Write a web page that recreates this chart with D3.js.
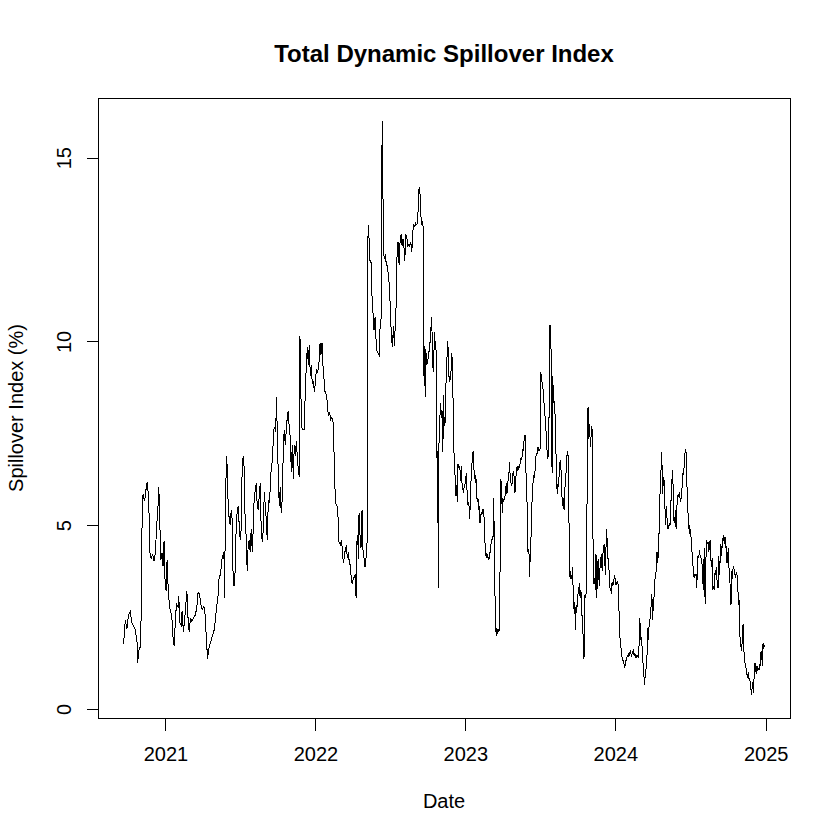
<!DOCTYPE html>
<html>
<head>
<meta charset="utf-8">
<script src="https://cdn.jsdelivr.net/npm/d3@7"></script>
<style>
  body { margin: 0; background: #fff; }
  svg { display: block; }
  text { font-family: "Liberation Sans", Arial, Helvetica, sans-serif; fill: #000; }
</style>
</head>
<body>
<svg id="chart" width="840" height="840"></svg>
<script>
// total spillover index: [decimal year, value in %]
const spillover = [
  [2020.722,1.77],[2020.733,2.43],[2020.744,2.19],[2020.755,2.57],[2020.766,2.66],[2020.777,2.34],[2020.789,2.24],[2020.800,2.15],
  [2020.811,1.82],[2020.815,1.26],[2020.826,1.66],[2020.835,1.68],[2020.840,3.04],[2020.844,4.9],[2020.851,5.84],[2020.862,5.65],
  [2020.871,5.98],[2020.878,6.17],[2020.884,5.94],[2020.891,5.33],[2020.898,4.16],[2020.907,4.11],[2020.915,4.2],[2020.924,4.02],
  [2020.933,4.25],[2020.942,5.0],[2020.951,5.56],[2020.956,6.03],[2020.962,5.19],[2020.969,4.06],[2020.978,4.25],[2020.984,3.88],
  [2020.991,4.58],[2020.998,3.41],[2021.005,3.22],[2021.011,4.06],[2021.018,3.32],[2021.027,2.76],[2021.036,2.66],[2021.045,2.38],
  [2021.053,1.77],[2021.060,1.73],[2021.067,2.57],[2021.076,2.85],[2021.085,2.76],[2021.089,3.08],[2021.096,2.34],[2021.105,2.28],
  [2021.111,2.66],[2021.120,2.1],[2021.129,2.47],[2021.136,2.85],[2021.143,3.22],[2021.149,2.57],[2021.158,2.1],[2021.167,2.47],
  [2021.176,2.38],[2021.185,2.47],[2021.194,2.52],[2021.200,2.57],[2021.209,2.76],[2021.218,3.18],[2021.227,3.13],[2021.236,2.85],
  [2021.245,2.71],[2021.256,2.8],[2021.263,2.66],[2021.272,2.0],[2021.281,1.35],[2021.287,1.6],[2021.296,1.75],[2021.305,1.87],
  [2021.314,2.0],[2021.325,2.15],[2021.334,2.47],[2021.341,2.76],[2021.350,3.04],[2021.358,3.6],
  [2021.367,3.65],[2021.378,4.12],[2021.390,4.28],[2021.394,3.03],[2021.401,5.73],[2021.407,6.88],[2021.414,6.47],[2021.419,5.32],
  [2021.425,5.22],[2021.432,5.0],[2021.439,5.42],[2021.445,5.16],[2021.452,3.4],[2021.459,3.34],[2021.465,3.76],[2021.472,5.0],
  [2021.479,5.42],[2021.485,5.52],[2021.492,5.0],[2021.499,4.59],[2021.505,4.9],[2021.512,6.67],[2021.519,6.88],[2021.525,6.57],
  [2021.532,5.0],[2021.539,4.69],[2021.545,3.76],[2021.552,4.48],[2021.559,4.59],[2021.565,4.28],[2021.572,4.9],[2021.579,4.28],
  [2021.585,4.85],[2021.592,5.79],[2021.599,5.94],[2021.606,6.15],[2021.612,5.52],[2021.619,5.42],[2021.626,5.84],[2021.632,6.15],
  [2021.639,4.8],[2021.646,4.54],[2021.652,4.85],[2021.659,5.89],[2021.666,5.52],[2021.672,5.16],[2021.679,4.59],[2021.686,5.68],
  [2021.695,5.63],[2021.701,6.36],[2021.708,6.57],[2021.715,6.88],[2021.721,7.6],[2021.728,7.66],[2021.735,7.55],[2021.741,8.49],
  [2021.746,7.4],[2021.752,6.46],[2021.759,5.52],[2021.766,6.05],[2021.772,5.32],[2021.779,5.73],[2021.786,7.08],[2021.792,7.6],
  [2021.799,7.19],[2021.806,7.6],[2021.812,7.92],[2021.819,8.12],[2021.826,7.6],[2021.833,7.4],[2021.839,6.46],[2021.846,7.19],
  [2021.853,6.25],[2021.859,7.19],[2021.866,6.88],[2021.873,7.29],[2021.879,6.88],[2021.886,6.51],[2021.893,6.3],[2021.897,10.15],
  [2021.902,8.85],[2021.908,7.66],[2021.917,7.6],[2021.926,7.6],[2021.933,8.75],[2021.939,9.27],[2021.946,9.84],[2021.953,9.37],
  [2021.959,9.89],[2021.966,9.06],[2021.973,9.37],[2021.979,8.85],[2021.986,8.9],[2021.993,8.64],[2021.999,8.85],[2022.006,9.22],
  [2022.013,9.17],[2022.020,9.27],[2022.026,9.53],[2022.031,9.95],[2022.037,9.63],[2022.044,9.95],[2022.048,9.48],[2022.057,9.01],
  [2022.064,8.64],
  [2022.068,8.64],[2022.080,8.34],[2022.086,7.97],[2022.095,8.07],[2022.102,7.87],[2022.109,7.92],[2022.117,7.87],[2022.124,6.98],
  [2022.131,5.94],[2022.137,5.58],[2022.144,5.52],[2022.151,5.22],[2022.157,4.54],[2022.166,4.48],[2022.173,4.59],[2022.180,4.33],
  [2022.186,3.97],[2022.193,4.12],[2022.200,4.38],[2022.206,4.43],[2022.213,4.12],[2022.220,4.28],[2022.226,3.97],[2022.233,3.91],
  [2022.240,3.5],[2022.246,3.4],[2022.253,3.55],[2022.260,3.6],[2022.267,3.65],[2022.271,3.03],[2022.278,4.69],[2022.282,4.74],
  [2022.287,4.07],[2022.291,5.32],[2022.298,4.69],[2022.304,4.38],[2022.311,5.42],[2022.318,4.23],[2022.324,4.12],[2022.331,3.86],
  [2022.338,4.12],[2022.344,4.28],[2022.347,8.23],[2022.351,13.0],[2022.356,13.17],[2022.360,12.23],[2022.367,12.18],[2022.373,12.13],
  [2022.378,11.14],[2022.385,10.73],[2022.391,10.31],[2022.398,10.67],[2022.405,10.0],[2022.411,9.74],[2022.418,9.68],[2022.425,9.63],
  [2022.431,10.36],[2022.438,10.62],[2022.445,16.0],[2022.449,15.14],[2022.453,12.39],[2022.460,12.28],[2022.467,12.34],[2022.473,12.08],
  [2022.480,12.08],[2022.487,11.77],[2022.494,11.5],[2022.500,10.83],[2022.507,10.1],[2022.514,9.84],[2022.520,10.41],[2022.527,9.89],
  [2022.534,10.62],[2022.540,11.14],[2022.545,12.55],[2022.551,12.7],[2022.558,12.08],[2022.565,12.75],[2022.571,12.91],[2022.578,12.6],
  [2022.585,12.8],[2022.592,12.49],[2022.596,12.18],[2022.603,12.91],[2022.609,12.86],[2022.616,12.6],[2022.623,12.65],[2022.629,12.6],
  [2022.636,12.7],[2022.643,12.44],[2022.649,13.0],[2022.656,13.17],[2022.663,13.12],[2022.669,13.22],[2022.676,13.17],[2022.683,13.33],
  [2022.687,13.95],[2022.692,14.21],[2022.698,14.0],[2022.703,13.43],[2022.710,13.17],[2022.714,13.27],[2022.718,13.12],[2022.723,9.06],
  [2022.727,9.89],[2022.732,8.49],[2022.736,9.79],[2022.743,9.37],[2022.750,9.48],[2022.756,9.68],[2022.763,9.89],
  [2022.770,10.36],[2022.776,10.67],[2022.781,9.43],[2022.787,9.17],[2022.794,10.26],[2022.801,9.79],[2022.807,9.74],[2022.812,5.99],
  [2022.816,7.03],[2022.819,3.29],[2022.823,7.08],[2022.830,7.92],[2022.834,8.33],[2022.841,7.92],[2022.845,8.12],[2022.850,6.98],
  [2022.854,8.54],[2022.859,7.71],[2022.863,7.71],[2022.868,8.02],[2022.872,9.17],[2022.879,9.68],[2022.883,10.0],[2022.888,9.37],
  [2022.892,8.9],[2022.897,9.06],[2022.901,8.96],[2022.905,9.27],[2022.910,9.68],[2022.914,9.27],[2022.919,8.12],[2022.923,6.98],
  [2022.928,6.95],[2022.932,6.15],[2022.937,5.79],[2022.941,6.1],[2022.946,5.63],[2022.950,6.67],[2022.957,6.57],[2022.963,6.6],
  [2022.968,6.2],[2022.972,6.6],[2022.977,6.15],[2022.981,6.1],[2022.986,5.89],[2022.992,6.05],[2022.999,6.15],[2023.006,6.41],
  [2023.010,6.05],[2023.015,5.58],[2023.019,5.52],[2023.023,5.63],[2023.028,5.16],[2023.032,5.52],[2023.037,6.15],[2023.041,6.51],
  [2023.046,6.77],[2023.052,7.03],[2023.057,6.51],[2023.061,6.46],[2023.066,6.15],[2023.070,6.36],[2023.075,5.84],[2023.079,5.63],
  [2023.084,5.73],[2023.088,5.42],[2023.092,5.52],[2023.097,5.06],[2023.101,5.16],[2023.106,5.37],[2023.110,5.27],[2023.115,5.42],
  [2023.121,5.42],[2023.126,5.11],[2023.130,4.59],[2023.135,4.17],[2023.139,4.22],[2023.144,4.12],[2023.148,4.17],[2023.152,4.12],
  [2023.157,4.07],[2023.161,4.22],[2023.166,4.28],[2023.170,4.48],[2023.175,4.59],[2023.179,4.64],[2023.184,4.59],[2023.188,5.73],
  [2023.193,4.69],[2023.197,3.24],[2023.201,2.3],[2023.206,1.99],[2023.210,2.2],[2023.215,2.1],[2023.219,2.15],[2023.224,2.1],
  [2023.228,2.46],[2023.233,4.59],[2023.237,6.25],[2023.242,5.94],[2023.246,5.32],[2023.250,5.73],[2023.255,5.63],[2023.259,5.73],
  [2023.264,5.79],[2023.268,5.94],[2023.273,6.15],[2023.277,5.84],[2023.282,6.15],[2023.286,6.25],[2023.291,6.46],[2023.295,6.72],
  [2023.299,6.25],[2023.304,6.15],[2023.308,6.1],[2023.313,6.15],[2023.317,6.41],[2023.322,6.46],[2023.326,6.25],[2023.331,5.89],
  [2023.335,6.05],[2023.340,6.57],[2023.344,6.46],[2023.348,6.6],[2023.353,6.51],[2023.357,6.6],[2023.362,6.57],[2023.366,6.72],
  [2023.371,6.83],[2023.375,6.77],[2023.380,6.93],[2023.384,7.08],[2023.388,7.03],[2023.393,7.45],[2023.397,7.45],[2023.402,7.4],
  [2023.406,5.73],[2023.411,5.63],[2023.415,4.28],[2023.420,4.33],[2023.424,4.28],[2023.429,3.6],[2023.433,4.38],[2023.438,4.69],
  [2023.442,5.32],[2023.446,5.84],[2023.451,6.15],[2023.455,6.36],[2023.460,6.3],[2023.464,6.46],[2023.469,6.77],
  [2023.471,6.88],[2023.477,6.93],[2023.484,7.14],[2023.491,7.03],[2023.498,7.08],[2023.502,9.17],[2023.506,9.06],[2023.513,8.85],
  [2023.520,8.64],[2023.527,8.12],[2023.533,7.92],[2023.540,7.4],[2023.547,6.83],[2023.553,6.88],[2023.560,8.44],[2023.564,10.46],
  [2023.569,10.36],[2023.573,9.27],[2023.578,6.41],[2023.582,9.06],[2023.587,8.54],[2023.591,8.33],[2023.596,8.38],[2023.600,7.6],
  [2023.604,6.98],[2023.609,6.15],[2023.613,5.84],[2023.618,6.15],[2023.622,6.05],[2023.627,6.57],[2023.631,6.72],[2023.636,6.77],
  [2023.640,6.15],[2023.644,5.79],[2023.649,5.52],[2023.653,5.73],[2023.658,5.42],[2023.662,5.84],[2023.667,6.25],[2023.671,6.41],
  [2023.676,6.83],[2023.680,7.03],[2023.685,6.88],[2023.689,6.05],[2023.693,4.17],[2023.698,3.55],[2023.702,3.76],[2023.707,3.55],
  [2023.711,3.65],[2023.716,3.86],[2023.720,2.72],[2023.725,2.82],[2023.729,2.92],[2023.734,2.15],[2023.738,2.82],[2023.742,2.61],
  [2023.747,2.92],[2023.751,3.13],[2023.756,3.24],[2023.760,3.44],[2023.765,3.03],[2023.769,3.24],[2023.774,3.13],[2023.778,2.51],
  [2023.782,2.2],[2023.787,1.9],[2023.791,1.35],[2023.796,3.1],[2023.800,3.03],[2023.805,3.13],[2023.809,4.28],[2023.814,7.29],
  [2023.818,8.23],[2023.823,7.34],[2023.827,7.76],[2023.831,7.4],[2023.836,7.14],[2023.840,7.71],[2023.845,7.6],[2023.849,5.52],
  [2023.854,3.44],[2023.858,3.39],[2023.863,3.55],[2023.867,3.24],[2023.871,4.22],[2023.876,3.03],[2023.880,3.55],[2023.885,4.07],
  [2023.889,3.65],[2023.894,3.34],[2023.898,3.86],[2023.903,4.07],[2023.907,4.22],[2023.912,3.76],[2023.916,4.17],[2023.920,4.33],
  [2023.925,4.48],[2023.929,4.07],[2023.934,3.65],[2023.938,4.43],[2023.943,4.9],[2023.947,4.22],[2023.952,4.07],[2023.956,3.86],
  [2023.961,3.65],[2023.965,3.24],[2023.969,3.29],[2023.974,3.13],[2023.978,3.44],[2023.983,3.34],[2023.987,3.44],[2023.992,3.55],
  [2023.996,3.65],[2024.001,3.39],[2024.005,3.44],[2024.010,3.39],[2024.014,3.44],[2024.018,3.39],[2024.023,2.9],[2024.027,2.2],
  [2024.032,1.87],[2024.036,1.7],[2024.041,1.55],[2024.045,1.4],[2024.050,1.33],[2024.054,1.3],[2024.058,1.22],[2024.063,1.14],
  [2024.067,1.2],[2024.072,1.35],[2024.076,1.4],[2024.081,1.45],[2024.085,1.42],[2024.090,1.5],[2024.094,1.47],[2024.099,1.6],
  [2024.103,1.5],[2024.107,1.45],[2024.112,1.52],[2024.116,1.56],[2024.121,1.6],[2024.125,1.45],[2024.130,1.5],[2024.134,1.42],
  [2024.139,1.45],[2024.143,1.41],[2024.148,1.45],[2024.152,1.42],[2024.156,1.41],[2024.161,2.47],[2024.165,2.3],[2024.170,1.87],
  [2024.175,1.95],[2024.181,1.37],[2024.185,1.2],[2024.190,0.9],[2024.194,0.65],[2024.199,0.95],[2024.203,1.05],[2024.208,1.26],
  [2024.212,1.58],[2024.217,2.2],[2024.221,1.89],[2024.225,2.36],[2024.230,2.41],[2024.234,2.72],[2024.239,2.82],[2024.243,3.13],
  [2024.248,2.41],[2024.252,2.82],[2024.257,3.03],[2024.261,3.44],[2024.266,3.6],[2024.270,3.65],[2024.274,4.22],[2024.279,4.28],
  [2024.283,3.97],[2024.288,4.74],[2024.292,4.8],[2024.297,5.84],[2024.301,5.94],[2024.306,6.98],[2024.310,6.72],[2024.315,5.84],
  [2024.319,6.3],[2024.323,6.25],[2024.328,6.05],[2024.332,5.0],[2024.337,5.32],[2024.341,5.52],[2024.346,4.9],[2024.350,5.0],
  [2024.355,4.9],[2024.359,5.06],[2024.363,5.0],[2024.368,5.11],[2024.372,6.15],[2024.377,6.25],[2024.381,6.51],[2024.386,5.73],
  [2024.390,5.11],[2024.395,5.06],[2024.399,5.42],[2024.404,4.9],[2024.408,5.32],[2024.412,5.73],[2024.417,5.84],[2024.421,5.79],
  [2024.426,5.89],[2024.430,5.73],[2024.435,5.63],[2024.439,5.84],[2024.444,6.05],[2024.448,6.41],[2024.453,6.36],[2024.457,6.57],
  [2024.461,6.88],[2024.466,7.08],[2024.470,6.98],[2024.475,6.3],[2024.479,5.63],[2024.484,5.27],[2024.488,4.9],[2024.493,5.0],
  [2024.497,4.74],[2024.501,4.9],[2024.506,4.38],[2024.510,4.28],[2024.515,4.07],[2024.519,3.6],[2024.524,3.65],[2024.528,3.6],
  [2024.533,3.65],[2024.537,3.65],[2024.542,3.29],[2024.546,4.07],[2024.550,4.17],[2024.555,4.12],[2024.559,4.33],[2024.564,4.17],
  [2024.568,4.12],[2024.573,4.07],[2024.577,3.91],[2024.582,3.44],[2024.586,3.24],[2024.591,4.38],[2024.595,3.13],[2024.599,2.87],
  [2024.604,4.48],[2024.608,4.59],[2024.613,4.48],[2024.617,4.54],[2024.622,4.28],[2024.626,4.48],[2024.631,4.59],[2024.635,4.07],
  [2024.640,3.86],[2024.644,4.12],[2024.648,3.24],[2024.653,3.34],[2024.657,3.24],[2024.662,3.7],[2024.666,3.65],[2024.671,3.86],
  [2024.675,3.55],[2024.680,3.34],[2024.684,3.29],[2024.688,4.17],[2024.693,3.65],[2024.697,4.07],[2024.702,4.48],[2024.706,4.17],
  [2024.711,4.48],[2024.715,4.64],[2024.720,4.74],[2024.724,4.48],[2024.729,4.69],[2024.733,4.38],[2024.737,4.43],[2024.742,3.97],
  [2024.746,4.07],[2024.751,4.38],[2024.755,3.86],[2024.760,3.65],[2024.764,3.29],[2024.769,2.82],[2024.773,3.76],[2024.778,3.55],
  [2024.782,3.81],[2024.786,3.86],[2024.791,3.76],[2024.795,3.65],[2024.800,3.6],[2024.804,3.7],[2024.809,3.65],[2024.813,3.6],
  [2024.818,2.82],[2024.822,3.03],[2024.826,2.41],[2024.831,1.68],[2024.835,1.78],[2024.840,1.58],[2024.844,1.89],[2024.849,2.3],
  [2024.853,1.78],[2024.858,1.37],[2024.862,1.26],[2024.867,1.16],[2024.871,1.05],[2024.875,0.95],[2024.880,0.85],[2024.884,1.0],
  [2024.889,0.8],[2024.893,0.85],[2024.898,0.69],[2024.902,0.53],[2024.907,0.38],[2024.911,0.74],[2024.916,0.64],[2024.920,0.43],
  [2024.924,1.16],[2024.929,1.26],[2024.933,1.05],[2024.938,0.95],[2024.942,1.16],[2024.947,1.05],[2024.951,1.1],[2024.956,1.05],
  [2024.960,1.21],[2024.964,1.16],[2024.969,1.58],[2024.973,1.47],[2024.978,1.16],[2024.982,1.78],[2024.987,1.68],[2024.991,1.73]
];

const xTickYears = [2021, 2022, 2023, 2024, 2025];
const yTicks = [0, 5, 10, 15];
const titleText = "Total Dynamic Spillover Index";
const xLabel = "Date";
const yLabel = "Spillover Index (%)";

const width = 840;
const height = 840;
// R default margins (5.1, 4.1, 4.1, 2.1 lines of 24px)
const margin = { top: 98, right: 50, bottom: 122, left: 98 };

// decimal year -> Date
function yearToDate(yf) {
  const yr = Math.floor(yf);
  const start = Date.UTC(yr, 0, 1);
  const end = Date.UTC(yr + 1, 0, 1);
  return new Date(start + (yf - yr) * (end - start));
}

const data = spillover.map(d => ({ date: yearToDate(d[0]), value: d[1] }));

// R pads both axes by 4% of the data range
const dExt = d3.extent(data, d => +d.date);
const dPad = (dExt[1] - dExt[0]) * 0.04;
const xScale = d3.scaleUtc()
  .domain([new Date(dExt[0] - dPad), new Date(dExt[1] + dPad)])
  .range([margin.left, width - margin.right]);

const vExt = d3.extent(data, d => d.value);
const vPad = (vExt[1] - vExt[0]) * 0.04;
const yScale = d3.scaleLinear()
  .domain([vExt[0] - vPad, vExt[1] + vPad])
  .range([height - margin.bottom, margin.top]);

const svg = d3.select('#chart');

svg.append('rect')
  .attr('width', width).attr('height', height)
  .attr('fill', '#fff');

// the series, drawn without anti-aliasing like the R png device
const line = d3.line()
  .x(d => xScale(d.date))
  .y(d => yScale(d.value));

svg.append('path')
  .datum(data)
  .attr('fill', 'none')
  .attr('stroke', '#000')
  .attr('stroke-width', 1)
  .attr('shape-rendering', 'crispEdges')
  .attr('d', line);

// box round the plot region
svg.append('rect')
  .attr('x', margin.left + 0.5)
  .attr('y', margin.top + 0.5)
  .attr('width', width - margin.left - margin.right)
  .attr('height', height - margin.top - margin.bottom)
  .attr('fill', 'none')
  .attr('stroke', '#000')
  .attr('stroke-width', 1)
  .attr('shape-rendering', 'crispEdges');

// x axis
const xAxis = d3.axisBottom(xScale)
  .tickValues(xTickYears.map(y => new Date(Date.UTC(y, 0, 1))))
  .tickFormat(d3.utcFormat('%Y'))
  .tickSizeOuter(0)
  .tickSize(12);

const gx = svg.append('g')
  .attr('transform', `translate(0, ${height - margin.bottom + 0.5})`)
  .call(xAxis);
gx.select('.domain').remove();
gx.selectAll('line').attr('stroke', '#000').attr('shape-rendering', 'crispEdges');
gx.selectAll('text')
  .attr('y', 42.5)
  .attr('dy', null)
  .attr('font-size', '20px')
  .attr('font-family', '"Liberation Sans", Arial, sans-serif');

// y axis, labels parallel to the axis as in R
const yAxis = d3.axisLeft(yScale)
  .tickValues(yTicks)
  .tickSizeOuter(0)
  .tickSize(12);

const gy = svg.append('g')
  .attr('transform', `translate(${margin.left + 0.5}, 0)`)
  .call(yAxis);
gy.select('.domain').remove();
gy.selectAll('line').attr('stroke', '#000').attr('shape-rendering', 'crispEdges');
gy.selectAll('text')
  .attr('transform', 'rotate(-90)')
  .attr('x', 0)
  .attr('y', -27.5)
  .attr('dy', null)
  .attr('text-anchor', 'middle')
  .attr('font-size', '20px')
  .attr('font-family', '"Liberation Sans", Arial, sans-serif');

// titles
const cx = (margin.left + width - margin.right) / 2;
const cy = (margin.top + height - margin.bottom) / 2;

svg.append('text')
  .attr('x', cx)
  .attr('y', 61.5)
  .attr('text-anchor', 'middle')
  .attr('font-size', '24px')
  .attr('font-weight', 'bold')
  .text(titleText);

svg.append('text')
  .attr('x', cx)
  .attr('y', 808)
  .attr('text-anchor', 'middle')
  .attr('font-size', '20px')
  .text(xLabel);

svg.append('text')
  .attr('transform', `translate(23, ${cy}) rotate(-90)`)
  .attr('text-anchor', 'middle')
  .attr('font-size', '20px')
  .text(yLabel);
</script>
</body>
</html>
